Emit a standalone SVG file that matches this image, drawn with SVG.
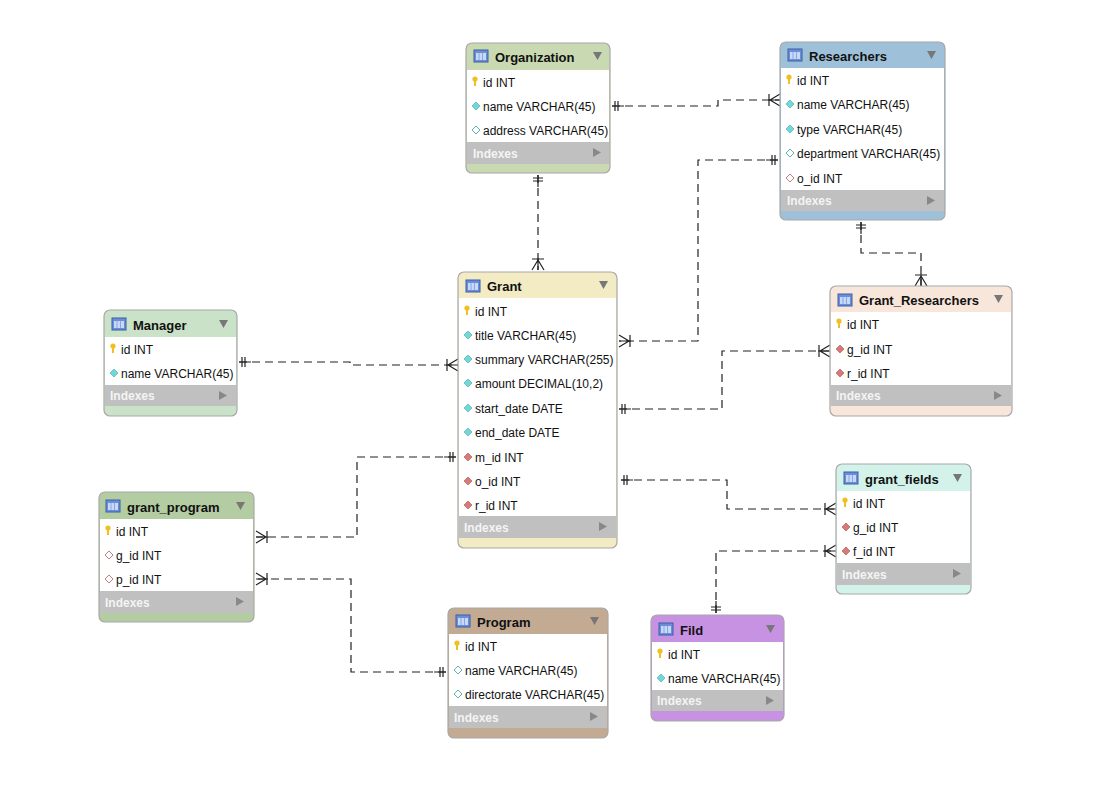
<svg xmlns="http://www.w3.org/2000/svg" width="1113" height="788" viewBox="0 0 1113 788">
<style>
.box{stroke:#a8a8a8;stroke-width:1.2}
.body{fill:#fff}
.idx{fill:#c0c0c0}
.t{font-family:"Liberation Sans",Arial,sans-serif;font-size:12px;fill:#111}
.h{font-family:"Liberation Sans",Arial,sans-serif;font-size:13px;font-weight:bold;fill:#111}
.ix{font-family:"Liberation Sans",Arial,sans-serif;font-size:12px;font-weight:bold;fill:#f4f4f4}
.tri{fill:#777}
.tri2{fill:#888}
.c{fill:none;stroke:#222;stroke-width:1.2;stroke-dasharray:8,5;marker-start:url(#one);marker-end:url(#many)}
.key{fill:#f0c020}
.df{fill:#70d8d8;stroke:#40a8a8;stroke-width:0.6}
.dh{fill:#fff;stroke:#60b0b0;stroke-width:1}
.rf{fill:#d87878;stroke:#a85050;stroke-width:0.6}
.rh{fill:#fff;stroke:#c08080;stroke-width:1}
</style>
<defs>
<marker id="one" markerUnits="userSpaceOnUse" markerWidth="24" markerHeight="24" refX="12" refY="12" viewBox="0 0 24 24" orient="auto-start-reverse" overflow="visible">
<path d="M6 7V17M9 7V17M0 12H12" stroke="#222" stroke-width="1.2" fill="none"/>
</marker>
<marker id="many" markerUnits="userSpaceOnUse" markerWidth="24" markerHeight="24" refX="12" refY="12" viewBox="0 0 24 24" orient="auto-start-reverse" overflow="visible">
<path d="M1 6V18M0 12H12M2 12L12 6M2 12L12 18" stroke="#222" stroke-width="1.2" fill="none"/>
</marker>
<g id="ticon"><rect x="0" y="0" width="14" height="12" fill="#6a8fd8" stroke="#3a5fa8"/><rect x="2" y="3" width="10" height="7" fill="#c8d8f8"/><path d="M5 3V10M8.5 3V10" stroke="#8aa8e0"/></g>
<g id="kicon"><circle cx="3" cy="3" r="2.6" class="key"/><rect x="2" y="4" width="2" height="6" class="key"/></g>
<path id="dia" d="M0 -4L4 0L0 4L-4 0Z"/>
</defs>
<rect width="1113" height="788" fill="#fff"/>

<g id="connectors">
<path class="c" d="M612 106H718V100H780"/>
<path class="c" d="M538 175V270"/>
<path class="c" d="M778 160H698V341H619"/>
<path class="c" d="M861 222V253H921V286"/>
<path class="c" d="M239 362H350V365H458"/>
<path class="c" d="M619 409H722V351H830"/>
<path class="c" d="M456 457H357V537H256"/>
<path class="c" d="M621 480H727V509H836"/>
<path class="c" d="M446 672H351V579H256"/>
<path class="c" d="M716 613V551H836"/>
</g>

<g id="Organization">
<rect class="box" x="466" y="43" width="144" height="130" rx="6" fill="#c9d9b2"/>
<rect class="body" x="467" y="70" width="142" height="72"/><rect class="idx" x="467" y="142" width="142" height="22"/>
<use href="#ticon" x="474" y="50"/><text class="h" x="495" y="62">Organization</text><path class="tri" d="M593 52h9l-4.5 8z"/>
<use href="#kicon" x="472" y="76"/><text class="t" x="483" y="87">id INT</text>
<use href="#dia" x="476" y="106" class="df"/><text class="t" x="483" y="111">name VARCHAR(45)</text>
<use href="#dia" x="476" y="130" class="dh"/><text class="t" x="483" y="135">address VARCHAR(45)</text>
<text class="ix" x="473" y="158">Indexes</text><path class="tri2" d="M593 148v9l8-4.5z"/>
</g>

<g id="Researchers">
<rect class="box" x="780" y="42" width="165" height="178" rx="6" fill="#9ec1d9"/>
<rect class="body" x="781" y="68" width="163" height="122"/><rect class="idx" x="781" y="190" width="163" height="21"/>
<use href="#ticon" x="788" y="49"/><text class="h" x="809" y="61">Researchers</text><path class="tri" d="M927 51h9l-4.5 8z"/>
<use href="#kicon" x="786" y="74"/><text class="t" x="797" y="85">id INT</text>
<use href="#dia" x="790" y="104" class="df"/><text class="t" x="797" y="109">name VARCHAR(45)</text>
<use href="#dia" x="790" y="129" class="df"/><text class="t" x="797" y="134">type VARCHAR(45)</text>
<use href="#dia" x="790" y="153" class="dh"/><text class="t" x="797" y="158">department VARCHAR(45)</text>
<use href="#dia" x="790" y="178" class="rh"/><text class="t" x="797" y="183">o_id INT</text>
<text class="ix" x="787" y="205">Indexes</text><path class="tri2" d="M927 196v9l8-4.5z"/>
</g>

<g id="Grant">
<rect class="box" x="458" y="272" width="159" height="276" rx="6" fill="#f2ebc4"/>
<rect class="body" x="459" y="298" width="157" height="218"/><rect class="idx" x="459" y="516" width="157" height="22"/>
<use href="#ticon" x="466" y="280"/><text class="h" x="487" y="291">Grant</text><path class="tri" d="M599 281h9l-4.5 8z"/>
<use href="#kicon" x="464" y="305"/><text class="t" x="475" y="316">id INT</text>
<use href="#dia" x="468" y="335" class="df"/><text class="t" x="475" y="340">title VARCHAR(45)</text>
<use href="#dia" x="468" y="359" class="df"/><text class="t" x="475" y="364">summary VARCHAR(255)</text>
<use href="#dia" x="468" y="383" class="df"/><text class="t" x="475" y="388">amount DECIMAL(10,2)</text>
<use href="#dia" x="468" y="408" class="df"/><text class="t" x="475" y="413">start_date DATE</text>
<use href="#dia" x="468" y="432" class="df"/><text class="t" x="475" y="437">end_date DATE</text>
<use href="#dia" x="468" y="457" class="rf"/><text class="t" x="475" y="462">m_id INT</text>
<use href="#dia" x="468" y="481" class="rf"/><text class="t" x="475" y="486">o_id INT</text>
<use href="#dia" x="468" y="505" class="rf"/><text class="t" x="475" y="510">r_id INT</text>
<text class="ix" x="464" y="532">Indexes</text><path class="tri2" d="M599 522v9l8-4.5z"/>
</g>

<g id="Manager">
<rect class="box" x="104" y="310" width="133" height="106" rx="6" fill="#c9e2c8"/>
<rect class="body" x="105" y="337" width="131" height="48"/><rect class="idx" x="105" y="385" width="131" height="21"/>
<use href="#ticon" x="112" y="318"/><text class="h" x="133" y="330">Manager</text><path class="tri" d="M219 320h9l-4.5 8z"/>
<use href="#kicon" x="110" y="343"/><text class="t" x="121" y="354">id INT</text>
<use href="#dia" x="114" y="373" class="df"/><text class="t" x="121" y="378">name VARCHAR(45)</text>
<text class="ix" x="110" y="400">Indexes</text><path class="tri2" d="M219 391v9l8-4.5z"/>
</g>

<g id="grant_program">
<rect class="box" x="99" y="492" width="155" height="130" rx="6" fill="#b4cca2"/>
<rect class="body" x="100" y="519" width="153" height="72"/><rect class="idx" x="100" y="591" width="153" height="22"/>
<use href="#ticon" x="106" y="500"/><text class="h" x="127" y="512">grant_program</text><path class="tri" d="M236 502h9l-4.5 8z"/>
<use href="#kicon" x="105" y="525"/><text class="t" x="116" y="536">id INT</text>
<use href="#dia" x="109" y="555" class="rh"/><text class="t" x="116" y="560">g_id INT</text>
<use href="#dia" x="109" y="579" class="rh"/><text class="t" x="116" y="584">p_id INT</text>
<text class="ix" x="105" y="607">Indexes</text><path class="tri2" d="M236 597v9l8-4.5z"/>
</g>

<g id="Program">
<rect class="box" x="448" y="608" width="160" height="130" rx="6" fill="#c2ab92"/>
<rect class="body" x="449" y="634" width="158" height="72"/><rect class="idx" x="449" y="706" width="158" height="22"/>
<use href="#ticon" x="456" y="615"/><text class="h" x="477" y="627">Program</text><path class="tri" d="M590 617h9l-4.5 8z"/>
<use href="#kicon" x="454" y="640"/><text class="t" x="465" y="651">id INT</text>
<use href="#dia" x="458" y="670" class="dh"/><text class="t" x="465" y="675">name VARCHAR(45)</text>
<use href="#dia" x="458" y="694" class="dh"/><text class="t" x="465" y="699">directorate VARCHAR(45)</text>
<text class="ix" x="454" y="722">Indexes</text><path class="tri2" d="M590 712v9l8-4.5z"/>
</g>

<g id="Fild">
<rect class="box" x="651" y="615" width="133" height="106" rx="6" fill="#c792e2"/>
<rect class="body" x="652" y="642" width="131" height="48"/><rect class="idx" x="652" y="690" width="131" height="21"/>
<use href="#ticon" x="659" y="623"/><text class="h" x="680" y="635">Fild</text><path class="tri" d="M766 625h9l-4.5 8z"/>
<use href="#kicon" x="657" y="648"/><text class="t" x="668" y="659">id INT</text>
<use href="#dia" x="661" y="678" class="df"/><text class="t" x="668" y="683">name VARCHAR(45)</text>
<text class="ix" x="657" y="705">Indexes</text><path class="tri2" d="M766 696v9l8-4.5z"/>
</g>

<g id="grant_fields">
<rect class="box" x="836" y="464" width="135" height="130" rx="6" fill="#d2f2ea"/>
<rect class="body" x="837" y="491" width="133" height="72"/><rect class="idx" x="837" y="563" width="133" height="22"/>
<use href="#ticon" x="844" y="472"/><text class="h" x="865" y="484">grant_fields</text><path class="tri" d="M953 474h9l-4.5 8z"/>
<use href="#kicon" x="842" y="497"/><text class="t" x="853" y="508">id INT</text>
<use href="#dia" x="846" y="527" class="rf"/><text class="t" x="853" y="532">g_id INT</text>
<use href="#dia" x="846" y="551" class="rf"/><text class="t" x="853" y="556">f_id INT</text>
<text class="ix" x="842" y="579">Indexes</text><path class="tri2" d="M953 569v9l8-4.5z"/>
</g>

<g id="Grant_Researchers">
<rect class="box" x="830" y="286" width="182" height="130" rx="6" fill="#f8e6da"/>
<rect class="body" x="831" y="312" width="180" height="73"/><rect class="idx" x="831" y="385" width="180" height="21"/>
<use href="#ticon" x="838" y="294"/><text class="h" x="859" y="305">Grant_Researchers</text><path class="tri" d="M994 295h9l-4.5 8z"/>
<use href="#kicon" x="836" y="318"/><text class="t" x="847" y="329">id INT</text>
<use href="#dia" x="840" y="349" class="rf"/><text class="t" x="847" y="354">g_id INT</text>
<use href="#dia" x="840" y="373" class="rf"/><text class="t" x="847" y="378">r_id INT</text>
<text class="ix" x="836" y="400">Indexes</text><path class="tri2" d="M994 391v9l8-4.5z"/>
</g>
</svg>
